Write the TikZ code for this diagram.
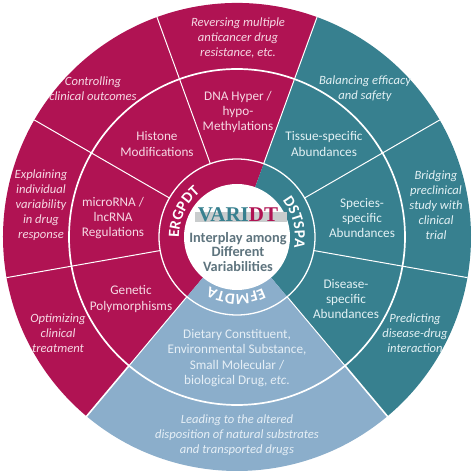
\documentclass[tikz,border=0pt]{standalone}
\usepackage{fontspec}
\setmainfont{Carlito}
\newfontfamily\logofont{Liberation Serif}
\usetikzlibrary{decorations.text,calc}
\definecolor{crim}{HTML}{B01353}
\definecolor{tealc}{HTML}{37808F}
\definecolor{bluec}{HTML}{8BAECB}
\definecolor{onCrim}{HTML}{F6D9E4}
\definecolor{onTeal}{HTML}{E3F1F4}
\definecolor{onBlue}{HTML}{E6EFF6}
\definecolor{centerText}{HTML}{5E747E}
\definecolor{bandGray}{HTML}{C9CCCD}
\tikzset{
  x=1pt,y=1pt,
  lab/.style={align=center,inner sep=0pt,font=\fontsize{13.2}{15.2}\selectfont},
  ital/.style={align=center,inner sep=0pt,font=\fontsize{12.6}{15}\selectfont\itshape},
  ringline/.style={draw=white,line width=1.7pt},
  spoke/.style={draw=white,line width=1pt},
  spokeb/.style={draw=white,line width=1.6pt},
  ctr/.style={align=center,inner sep=0pt,text=centerText,font=\fontsize{14.3}{14}\selectfont\bfseries},
}
\newcommand{\wedgefill}[3]{\fill[#1] (O) -- ++(#2:234) arc[start angle=#2,end angle=#3,radius=234] -- cycle;}
\newcommand{\arclabel}[3]{%
  \path[decorate,decoration={text along path,text align=center,
    text={|\fontsize{15.5}{16}\selectfont\bfseries\color{white}|#3}}]
    ($(O)+(#1+55:#2)$) arc[start angle=#1+55,end angle=#1-55,radius=#2];}
\newcommand{\spokeline}[4]{\draw[#1] ($(O)+(#2:#3)$) -- ($(O)+(#2:#4)$);}
\begin{document}
\begin{tikzpicture}
\useasboundingbox (0,0) rectangle (474,474);
\fill[white] (0,0) rectangle (474,474);
\coordinate (O) at (237,237);
% sectors
\wedgefill{crim}{70}{230}
\wedgefill{tealc}{-50}{70}
\wedgefill{bluec}{230}{310}
% rings
\draw[ringline] (O) circle[radius=168];
\draw[ringline,line width=1.3pt] (O) circle[radius=78];
% spokes
\foreach \a in {30,-10,110,150,190,70}{\spokeline{spoke}{\a}{78}{234}}
\foreach \a in {-50,230}{\spokeline{spoke}{\a}{78}{168}\spokeline{spokeb}{\a}{168}{235}}
% centre
\fill[white] (O) circle[radius=53];
\fill[bandGray] (195,252) rectangle (287,262);
\node[inner sep=0pt,anchor=base] (logo) at (238,252) {\logofont\bfseries\fontsize{21}{21}\selectfont\textcolor{tealc}{VARI}\textcolor{crim}{DT}};
\node[ctr] (hub) at (238,222) {Interplay among\\[0.4pt]Different\\[0.4pt]Variabilities};
% arc labels
\arclabel{155}{58}{ERGPDT}
\arclabel{14}{58}{DSTSPA}
\arclabel{-91}{57}{EFMDTA}
% inner ring labels
\node[lab,text=onCrim] (dna) at (238,362) {DNA Hyper /\\hypo-\\Methylations};
\node[lab,text=onCrim] (histone) at (157,330) {Histone\\Modifications};
\node[lab,text=onCrim] (mirna) at (113,256) {microRNA /\\lncRNA\\Regulations};
\node[lab,text=onCrim] (genetic) at (131,175) {Genetic\\Polymorphisms};
\node[lab,text=onBlue] (diet) at (237,116) {Dietary Constituent,\\Environmental Substance,\\Small Molecular /\\biological Drug, \textit{etc}.};
\node[lab,text=onTeal] (disease) at (346,175) {Disease-\\specific\\Abundances};
\node[lab,text=onTeal] (species) at (362,256) {Species-\\specific\\Abundances};
\node[lab,text=onTeal] (tissue) at (324,330) {Tissue-specific\\Abundances};
% outer ring labels
\node[ital,text=onCrim] (rev) at (238,436) {Reversing multiple\\anticancer drug\\resistance, etc.};
\node[ital,text=onCrim] (ctrl) at (93,385) {Controlling\\clinical outcomes};
\node[ital,text=onCrim] (expl) at (41,269) {Explaining\\individual\\variability\\in drug\\response};
\node[ital,text=onCrim] (opt) at (58,141) {Optimizing\\clinical\\treatment};
\node[ital,text=onBlue] (lead) at (237,39) {Leading to the altered\\disposition of natural substrates\\and transported drugs};
\node[ital,text=onTeal] (pred) at (415,141) {Predicting\\disease-drug\\interaction};
\node[ital,text=onTeal] (bridge) at (436,269) {Bridging\\preclinical\\study with\\clinical\\trial};
\node[ital,text=onTeal] (bal) at (365,385) {Balancing efficacy\\and safety};
\end{tikzpicture}
\end{document}
